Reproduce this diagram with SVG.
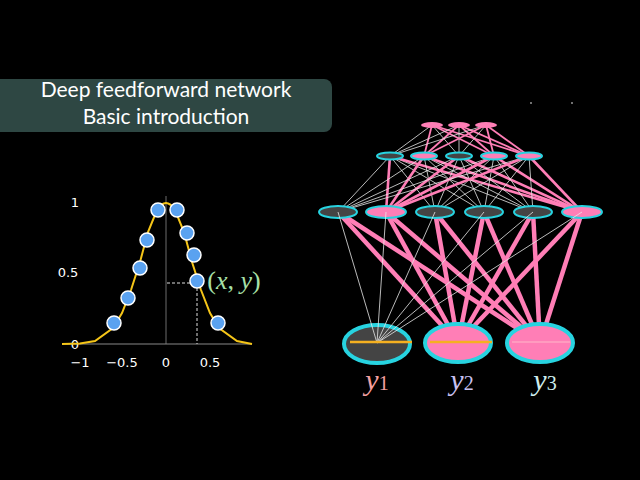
<svg xmlns="http://www.w3.org/2000/svg" width="640" height="480" viewBox="0 0 640 480">
<style>
.w{stroke:#e8e8e8;stroke-width:0.8}
.p1{stroke:#ff7eb6;stroke-width:1.8}
.p2{stroke:#ff7eb6;stroke-width:2.6}
.p3{stroke:#ff7eb6;stroke-width:4.5}
.g{fill:#444;stroke:#27d3e0;stroke-width:2}
.k{fill:#ff7eb6;stroke:#27d3e0;stroke-width:2}
.kt{fill:#ff7eb6}
.t{font-family:"DejaVu Sans",sans-serif;fill:#fff;font-size:13px;text-anchor:middle}
.pt{fill:#5aa2f0;stroke:#fff;stroke-width:1.5}
.m{font-family:"Liberation Serif","DejaVu Serif",serif;font-style:italic;font-size:30px;text-anchor:middle}
</style>
<rect width="640" height="480" fill="#000"/>
<g id="title">
<rect x="-10" y="79" width="342" height="53" rx="8" fill="#2e4743"/>
<text x="166" y="92" fill="#fff" font-family="Lato,'DejaVu Sans',sans-serif" font-size="21" text-anchor="middle" dominant-baseline="middle">Deep feedforward network</text>
<text x="166" y="119" fill="#fff" font-family="Lato,'DejaVu Sans',sans-serif" font-size="21" text-anchor="middle" dominant-baseline="middle">Basic introduction</text>
</g>
<circle cx="531" cy="103" r="0.8" fill="#fff"/><circle cx="572" cy="103" r="0.8" fill="#fff"/>
<g id="plot">
<line x1="62" y1="344" x2="252" y2="344" stroke="#888" stroke-width="1"/>
<line x1="166" y1="196" x2="166" y2="344" stroke="#888" stroke-width="0.8"/>
<text class="t" x="75" y="207">1</text>
<text class="t" x="68" y="277">0.5</text>
<text class="t" x="75" y="349">0</text>
<text class="t" x="80" y="367">−1</text>
<text class="t" x="122" y="367">−0.5</text>
<text class="t" x="166" y="367">0</text>
<text class="t" x="210" y="367">0.5</text>
<path d="M62,344 L80,343.5 L95,341 L113,328 L122,313 L131,290 L140,262 L148,232 L157,210 Q166,196 175,210 L184,232 L192,262 L201,290 L210,313 L219,328 L237,341 L252,344" fill="none" stroke="#f5c518" stroke-width="2"/>
<polyline points="167,283 197,283 197,344" fill="none" stroke="#ddd" stroke-width="1" stroke-dasharray="3,2"/>
<circle class="pt" cx="114" cy="323" r="7"/>
<circle class="pt" cx="128" cy="298" r="7"/>
<circle class="pt" cx="140" cy="268" r="7"/>
<circle class="pt" cx="147" cy="240" r="7"/>
<circle class="pt" cx="158" cy="210" r="7"/>
<circle class="pt" cx="177" cy="210" r="7"/>
<circle class="pt" cx="187" cy="233" r="7"/>
<circle class="pt" cx="194" cy="255" r="7"/>
<circle class="pt" cx="197" cy="281" r="7"/>
<circle class="pt" cx="218" cy="323" r="7"/>
<text x="234" y="289" fill="#a8e0a8" font-family="'Liberation Serif',serif" font-size="26" text-anchor="middle">(<tspan font-style="italic">x</tspan>, <tspan font-style="italic">y</tspan>)</text>
</g>
<g id="edges">
<line class="w" x1="432" y1="125" x2="390" y2="156"/><line class="p1" x1="432" y1="125" x2="424" y2="156"/><line class="w" x1="432" y1="125" x2="459" y2="156"/><line class="p1" x1="432" y1="125" x2="494" y2="156"/><line class="p1" x1="432" y1="125" x2="529" y2="156"/>
<line class="w" x1="459" y1="125" x2="390" y2="156"/><line class="p1" x1="459" y1="125" x2="424" y2="156"/><line class="w" x1="459" y1="125" x2="459" y2="156"/><line class="p1" x1="459" y1="125" x2="494" y2="156"/><line class="p1" x1="459" y1="125" x2="529" y2="156"/>
<line class="w" x1="486" y1="125" x2="390" y2="156"/><line class="p1" x1="486" y1="125" x2="424" y2="156"/><line class="w" x1="486" y1="125" x2="459" y2="156"/><line class="p1" x1="486" y1="125" x2="494" y2="156"/><line class="p1" x1="486" y1="125" x2="529" y2="156"/>
<line class="w" x1="390" y1="156" x2="338" y2="212"/><line class="p2" x1="390" y1="156" x2="386" y2="212"/><line class="w" x1="390" y1="156" x2="435" y2="212"/><line class="w" x1="390" y1="156" x2="484" y2="212"/><line class="w" x1="390" y1="156" x2="533" y2="212"/><line class="p2" x1="390" y1="156" x2="582" y2="212"/>
<line class="w" x1="424" y1="156" x2="338" y2="212"/><line class="p2" x1="424" y1="156" x2="386" y2="212"/><line class="w" x1="424" y1="156" x2="435" y2="212"/><line class="w" x1="424" y1="156" x2="484" y2="212"/><line class="w" x1="424" y1="156" x2="533" y2="212"/><line class="p2" x1="424" y1="156" x2="582" y2="212"/>
<line class="w" x1="459" y1="156" x2="338" y2="212"/><line class="p2" x1="459" y1="156" x2="386" y2="212"/><line class="w" x1="459" y1="156" x2="435" y2="212"/><line class="w" x1="459" y1="156" x2="484" y2="212"/><line class="w" x1="459" y1="156" x2="533" y2="212"/><line class="p2" x1="459" y1="156" x2="582" y2="212"/>
<line class="w" x1="494" y1="156" x2="338" y2="212"/><line class="p2" x1="494" y1="156" x2="386" y2="212"/><line class="w" x1="494" y1="156" x2="435" y2="212"/><line class="w" x1="494" y1="156" x2="484" y2="212"/><line class="w" x1="494" y1="156" x2="533" y2="212"/><line class="p2" x1="494" y1="156" x2="582" y2="212"/>
<line class="w" x1="529" y1="156" x2="338" y2="212"/><line class="p2" x1="529" y1="156" x2="386" y2="212"/><line class="w" x1="529" y1="156" x2="435" y2="212"/><line class="w" x1="529" y1="156" x2="484" y2="212"/><line class="w" x1="529" y1="156" x2="533" y2="212"/><line class="p2" x1="529" y1="156" x2="582" y2="212"/>
<line class="p3" x1="338" y1="212" x2="458" y2="343"/><line class="p3" x1="338" y1="212" x2="540" y2="343"/>
<line class="p3" x1="386" y1="212" x2="458" y2="343"/><line class="p3" x1="386" y1="212" x2="540" y2="343"/>
<line class="p3" x1="435" y1="212" x2="458" y2="343"/><line class="p3" x1="435" y1="212" x2="540" y2="343"/>
<line class="p3" x1="484" y1="212" x2="458" y2="343"/><line class="p3" x1="484" y1="212" x2="540" y2="343"/>
<line class="p3" x1="533" y1="212" x2="458" y2="343"/><line class="p3" x1="533" y1="212" x2="540" y2="343"/>
<line class="p3" x1="582" y1="212" x2="458" y2="343"/><line class="p3" x1="582" y1="212" x2="540" y2="343"/>
</g>
<g id="layer1">
<ellipse class="kt" cx="432" cy="125" rx="11" ry="3"/><ellipse class="kt" cx="459" cy="125" rx="11" ry="3"/><ellipse class="kt" cx="486" cy="125" rx="11" ry="3"/>
</g>
<g id="layer2">
<ellipse class="g" cx="390" cy="156" rx="13" ry="3.5" stroke-width="1.5"/><ellipse class="k" cx="424" cy="156" rx="13" ry="3.5" stroke-width="1.5"/><ellipse class="g" cx="459" cy="156" rx="13" ry="3.5" stroke-width="1.5"/><ellipse class="k" cx="494" cy="156" rx="13" ry="3.5" stroke-width="1.5"/><ellipse class="k" cx="529" cy="156" rx="13" ry="3.5" stroke-width="1.5"/>
</g>
<g id="layer3">
<ellipse class="g" cx="338" cy="212" rx="19" ry="6"/><ellipse class="k" cx="386" cy="212" rx="20" ry="6"/><ellipse class="g" cx="435" cy="212" rx="19" ry="6"/><ellipse class="g" cx="484" cy="212" rx="19" ry="6"/><ellipse class="g" cx="533" cy="212" rx="19" ry="6"/><ellipse class="k" cx="582" cy="212" rx="20" ry="6"/>
</g>
<g id="y1">
<ellipse cx="377" cy="344" rx="33" ry="19" fill="#444" stroke="#27d3e0" stroke-width="4"/>
<g class="edges-y1">
<line class="w" x1="338" y1="212" x2="377" y2="343"/><line class="w" x1="386" y1="212" x2="377" y2="343"/><line class="w" x1="435" y1="212" x2="377" y2="343"/><line class="w" x1="484" y1="212" x2="377" y2="343"/><line class="w" x1="533" y1="212" x2="377" y2="343"/><line class="w" x1="582" y1="212" x2="377" y2="343"/>
</g>
<line x1="350" y1="342" x2="412" y2="342" stroke="#f5b020" stroke-width="2.5"/>
<text class="m" x="377" y="390" fill="#f4a0a0">y<tspan font-size="20" font-style="normal">1</tspan></text>
</g>
<g id="y2">
<ellipse cx="458" cy="343" rx="33" ry="19" fill="#ff7eb6" stroke="#27d3e0" stroke-width="4"/>
<line x1="430" y1="342" x2="492" y2="342" stroke="#f5b020" stroke-width="2.5"/>
<text class="m" x="462" y="390" fill="#c8c0f0">y<tspan font-size="20" font-style="normal">2</tspan></text>
</g>
<g id="y3">
<ellipse cx="540" cy="343" rx="33" ry="19" fill="#ff7eb6" stroke="#27d3e0" stroke-width="4"/>
<line x1="512" y1="342" x2="570" y2="342" stroke="#ffb8c8" stroke-width="1.2"/>
<text class="m" x="545" y="390" fill="#cfeeee">y<tspan font-size="20" font-style="normal">3</tspan></text>
</g>
</svg>
